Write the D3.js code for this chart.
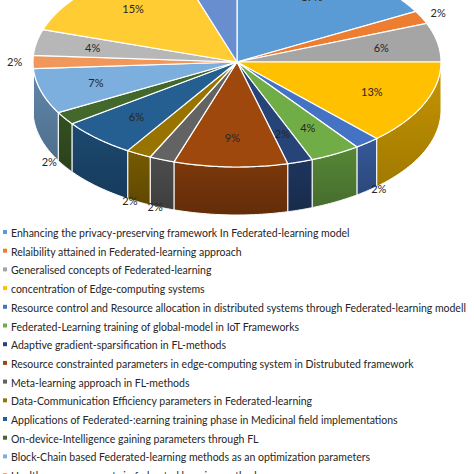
<!DOCTYPE html>
<html><head><meta charset="utf-8">
<script src="https://d3js.org/d3.v7.min.js"></script>
<style>body{margin:0;background:#fff}</style></head>
<body><svg id="c" width="474" height="474"></svg>
<script>
const categories = [
 "Enhancing the privacy-preserving framework In Federated-learning model",
 "Relaibility attained in Federated-learning approach",
 "Generalised concepts of Federated-learning",
 "concentration of Edge-computing systems",
 "Resource control and Resource allocation in distributed systems through Federated-learning modell",
 "Federated-Learning training of global-model in IoT Frameworks",
 "Adaptive gradient-sparsification in FL-methods",
 "Resource constrainted parameters in edge-computing system in Distrubuted framework",
 "Meta-learning approach in FL-methods",
 "Data-Communication Efficiency parameters in Federated-learning",
 "Applications of Federated-:earning training phase in Medicinal field implementations",
 "On-device-Intelligence gaining parameters through FL",
 "Block-Chain based Federated-learning methods as an optimization parameters",
 "Healthcare components in federated learning methods",
 "Security aspects of Federated-learning",
 "Privacy-preserving mechanisms in Federated-learning",
 "Other Federated-learning applications"
];
const values = [17,2,6,13,2,4,2,9,2,2,6,2,7,2,4,15,5];
const colors = ["#5B9BD5","#ED7D31","#A5A5A5","#FFC000","#4472C4","#70AD47","#264478","#9E480E","#636363","#997300","#255E91","#43682B","#7CAFDD","#F1975A","#B7B7B7","#FFCD33","#698ED0"];

const svg = d3.select("#c");
const cx=237, cy=62, rx=204, ry=105, depth=48;
const arcs = d3.pie().sort(null).value(d=>d).startAngle(0).endAngle(2*Math.PI)(values);
const px = a=>cx+rx*Math.sin(a), py=a=>cy-ry*Math.cos(a);

const sides = [];
arcs.forEach((d,i)=>{
  const a0=Math.max(d.startAngle,Math.PI/2), a1=Math.min(d.endAngle,3*Math.PI/2);
  if(a1<=a0) return;
  const n=30, top=[], bot=[];
  for(let k=0;k<=n;k++){const a=a0+(a1-a0)*k/n; top.push([px(a),py(a)]); bot.push([px(a),py(a)+depth]);}
  sides.push({pts:top.concat(bot.reverse()),i});
});
const defs=svg.append("defs");
sides.forEach(s=>{
  const g=defs.append("linearGradient").attr("id","g"+s.i).attr("x1",0).attr("y1",0).attr("x2",0).attr("y2",1);
  g.append("stop").attr("offset",0).attr("stop-color",d3.color(colors[s.i]).darker(0.7));
  g.append("stop").attr("offset",1).attr("stop-color",d3.color(colors[s.i]).darker(1.3));
});
svg.append("g").selectAll("path").data(sides).join("path")
 .attr("d",s=>d3.line()(s.pts)+"Z").attr("fill",s=>`url(#g${s.i})`)
 .attr("stroke","#fff").attr("stroke-width",1);

svg.append("g").selectAll("path").data(arcs).join("path")
 .attr("d",d=>{const n=40,p=[[cx,cy]];for(let k=0;k<=n;k++){const a=d.startAngle+(d.endAngle-d.startAngle)*k/n;p.push([px(a),py(a)]);}return d3.line()(p)+"Z";})
 .attr("fill",(d,i)=>colors[i]).attr("stroke","#fff").attr("stroke-width",1.2);

arcs.forEach((d,i)=>{
  const m=(d.startAngle+d.endAngle)/2, inside = values[i]>=4 || i===6;
  let f = inside?0.72:1.09;
  let x=cx+rx*f*Math.sin(m), y=cy-ry*f*Math.cos(m)+4;
  if(!inside && Math.cos(m)<0) y+=depth*0.8;
  svg.append("text").attr("x",x).attr("y",y).attr("text-anchor","middle")
   .attr("font-family","Lato, 'Open Sans', sans-serif").attr("font-size",11).attr("fill","#262626")
   .text(values[i]+"%");
});

const lg=svg.append("g").attr("font-family","Lato, 'Open Sans', sans-serif").attr("font-size",10.5).attr("fill","#262626");
categories.slice(0,14).forEach((c,i)=>{
  const y=233+i*18.7;
  lg.append("rect").attr("x",3).attr("y",y-3).attr("width",4).attr("height",4).attr("fill",colors[i]);
  lg.append("text").attr("x",11).attr("y",y+4).text(c);
});
</script></body></html>
